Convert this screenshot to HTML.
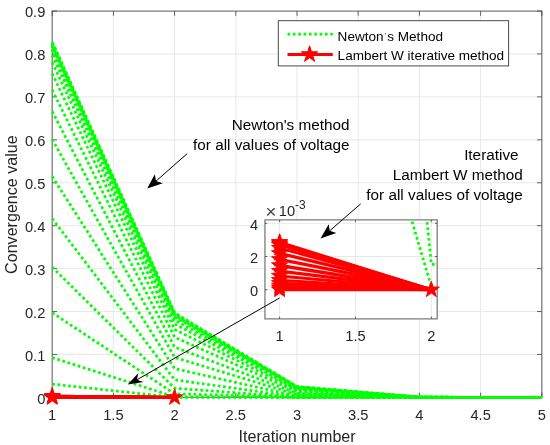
<!DOCTYPE html>
<html><head><meta charset="utf-8"><title>Convergence plot</title>
<style>html,body{margin:0;padding:0;background:#fff}svg{display:block}</style></head>
<body>
<svg width="550" height="445" viewBox="0 0 550 445" font-family="'Liberation Sans', Arial, Helvetica, sans-serif">
<rect width="550" height="445" fill="#fff"/>
<path d="M113.40 11.03V397.40M174.60 11.03V397.40M235.80 11.03V397.40M297.00 11.03V397.40M358.20 11.03V397.40M419.40 11.03V397.40M480.60 11.03V397.40M52.20 354.47H541.80M52.20 311.54H541.80M52.20 268.61H541.80M52.20 225.68H541.80M52.20 182.75H541.80M52.20 139.82H541.80M52.20 96.89H541.80M52.20 53.96H541.80" stroke="#e2e2e2" stroke-width="0.8" fill="none"/>
<path d="M52.20 11.03H541.80V397.40H52.20Z" stroke="#7c7c7c" stroke-width="1.3" fill="none"/>
<path d="M52.20 397.40v-4.8M52.20 11.03v4.8M113.40 397.40v-4.8M113.40 11.03v4.8M174.60 397.40v-4.8M174.60 11.03v4.8M235.80 397.40v-4.8M235.80 11.03v4.8M297.00 397.40v-4.8M297.00 11.03v4.8M358.20 397.40v-4.8M358.20 11.03v4.8M419.40 397.40v-4.8M419.40 11.03v4.8M480.60 397.40v-4.8M480.60 11.03v4.8M541.80 397.40v-4.8M541.80 11.03v4.8M52.20 397.40h4.8M541.80 397.40h-4.8M52.20 354.47h4.8M541.80 354.47h-4.8M52.20 311.54h4.8M541.80 311.54h-4.8M52.20 268.61h4.8M541.80 268.61h-4.8M52.20 225.68h4.8M541.80 225.68h-4.8M52.20 182.75h4.8M541.80 182.75h-4.8M52.20 139.82h4.8M541.80 139.82h-4.8M52.20 96.89h4.8M541.80 96.89h-4.8M52.20 53.96h4.8M541.80 53.96h-4.8M52.20 11.03h4.8M541.80 11.03h-4.8" stroke="#404040" stroke-width="0.8" fill="none"/>
<g font-size="14.67" fill="#262626">
<text x="52.20" y="420" text-anchor="middle">1</text>
<text x="113.40" y="420" text-anchor="middle">1.5</text>
<text x="174.60" y="420" text-anchor="middle">2</text>
<text x="235.80" y="420" text-anchor="middle">2.5</text>
<text x="297.00" y="420" text-anchor="middle">3</text>
<text x="358.20" y="420" text-anchor="middle">3.5</text>
<text x="419.40" y="420" text-anchor="middle">4</text>
<text x="480.60" y="420" text-anchor="middle">4.5</text>
<text x="541.80" y="420" text-anchor="middle">5</text>
<text x="45.3" y="403.60" text-anchor="end">0</text>
<text x="45.3" y="360.67" text-anchor="end">0.1</text>
<text x="45.3" y="317.74" text-anchor="end">0.2</text>
<text x="45.3" y="274.81" text-anchor="end">0.3</text>
<text x="45.3" y="231.88" text-anchor="end">0.4</text>
<text x="45.3" y="188.95" text-anchor="end">0.5</text>
<text x="45.3" y="146.02" text-anchor="end">0.6</text>
<text x="45.3" y="103.09" text-anchor="end">0.7</text>
<text x="45.3" y="60.16" text-anchor="end">0.8</text>
<text x="45.3" y="17.23" text-anchor="end">0.9</text>
</g>
<text x="297.1" y="441.5" font-size="16.1" fill="#262626" text-anchor="middle">Iteration number</text>
<text transform="translate(17.0,204.6) rotate(-90)" font-size="16.1" fill="#262626" text-anchor="middle">Convergence value</text>
<g fill="none" stroke="#00ff00" stroke-width="2.75" stroke-dasharray="2.7 2.65">
<polyline points="52.20,384.10 174.60,397.31 297.00,397.40 419.40,397.40 541.80,397.40"/>
<polyline points="52.20,357.65 174.60,396.73 297.00,397.40 419.40,397.40 541.80,397.40"/>
<polyline points="52.20,312.72 174.60,393.82 297.00,397.39 419.40,397.40 541.80,397.40"/>
<polyline points="52.20,267.14 174.60,388.19 297.00,397.29 419.40,397.40 541.80,397.40"/>
<polyline points="52.20,218.55 174.60,379.80 297.00,396.97 419.40,397.39 541.80,397.40"/>
<polyline points="52.20,176.41 174.60,368.62 297.00,396.22 419.40,397.38 541.80,397.40"/>
<polyline points="52.20,139.43 174.60,357.44 297.00,394.70 419.40,397.35 541.80,397.40"/>
<polyline points="52.20,111.48 174.60,347.12 297.00,393.35 419.40,397.33 541.80,397.40"/>
<polyline points="52.20,89.98 174.60,337.23 297.00,391.76 419.40,397.30 541.80,397.40"/>
<polyline points="52.20,73.64 174.60,329.49 297.00,390.31 419.40,397.27 541.80,397.40"/>
<polyline points="52.20,62.46 174.60,323.90 297.00,389.16 419.40,397.24 541.80,397.40"/>
<polyline points="52.20,55.15 174.60,320.03 297.00,388.30 419.40,397.23 541.80,397.40"/>
<polyline points="52.20,49.56 174.60,317.02 297.00,387.61 419.40,397.21 541.80,397.40"/>
<polyline points="52.20,46.12 174.60,315.51 297.00,387.25 419.40,397.21 541.80,397.40"/>
<polyline points="52.20,44.62 174.60,314.44 297.00,387.00 419.40,397.20 541.80,397.40"/>
<polyline points="52.20,43.54 174.60,313.79 297.00,386.84 419.40,397.20 541.80,397.40"/>
<polyline points="52.20,42.68 174.60,313.36 297.00,386.73 419.40,397.19 541.80,397.40"/>
<polyline points="52.20,42.03 174.60,312.93 297.00,386.63 419.40,397.19 541.80,397.40"/>
</g>
<g stroke="#ff0000" stroke-width="2.8" fill="none">
<line x1="52.20" y1="396.17" x2="174.60" y2="397.40"/>
<line x1="52.20" y1="396.21" x2="174.60" y2="397.40"/>
<line x1="52.20" y1="396.24" x2="174.60" y2="397.40"/>
<line x1="52.20" y1="396.32" x2="174.60" y2="397.40"/>
<line x1="52.20" y1="396.46" x2="174.60" y2="397.40"/>
<line x1="52.20" y1="396.61" x2="174.60" y2="397.40"/>
<line x1="52.20" y1="396.77" x2="174.60" y2="397.40"/>
<line x1="52.20" y1="396.92" x2="174.60" y2="397.40"/>
<line x1="52.20" y1="397.04" x2="174.60" y2="397.40"/>
<line x1="52.20" y1="397.16" x2="174.60" y2="397.40"/>
<line x1="52.20" y1="397.23" x2="174.60" y2="397.40"/>
<line x1="52.20" y1="397.30" x2="174.60" y2="397.40"/>
<line x1="52.20" y1="397.36" x2="174.60" y2="397.40"/>
<line x1="52.20" y1="397.40" x2="174.60" y2="397.40"/>
</g>
<polygon points="52.20,387.67 54.11,393.55 60.28,393.55 55.29,397.18 57.20,403.05 52.20,399.42 47.20,403.05 49.11,397.18 44.12,393.55 50.29,393.55" fill="#ff0000" stroke="#ff0000" stroke-width="1" stroke-linejoin="miter"/>
<polygon points="52.20,388.42 54.11,394.29 60.28,394.29 55.29,397.92 57.20,403.80 52.20,400.17 47.20,403.80 49.11,397.92 44.12,394.29 50.29,394.29" fill="#ff0000" stroke="#ff0000" stroke-width="1" stroke-linejoin="miter"/>
<polygon points="52.20,388.90 54.11,394.77 60.28,394.77 55.29,398.40 57.20,404.28 52.20,400.65 47.20,404.28 49.11,398.40 44.12,394.77 50.29,394.77" fill="#ff0000" stroke="#ff0000" stroke-width="1" stroke-linejoin="miter"/>
<polygon points="174.60,388.90 176.51,394.77 182.68,394.77 177.69,398.40 179.60,404.28 174.60,400.65 169.60,404.28 171.51,398.40 166.52,394.77 172.69,394.77" fill="#ff0000" stroke="#ff0000" stroke-width="1" stroke-linejoin="miter"/>
<rect x="278.3" y="20.7" width="230.3" height="45.2" fill="#fff" stroke="#4a4a4a" stroke-width="1"/>
<line x1="287.5" y1="34.2" x2="332.8" y2="34.2" stroke="#00ff00" stroke-width="2.75" stroke-dasharray="2.7 2.65"/>
<line x1="287.5" y1="54.5" x2="332.8" y2="54.5" stroke="#ff0000" stroke-width="2.8"/>
<polygon points="309.60,45.80 311.53,51.74 317.78,51.74 312.72,55.42 314.65,61.36 309.60,57.68 304.55,61.36 306.48,55.42 301.42,51.74 307.67,51.74" fill="#ff0000" stroke="#ff0000" stroke-width="1" stroke-linejoin="miter"/>
<text x="337.6" y="40.7" font-size="13.55" fill="#000">Newton<tspan font-size="8" dy="-2.5" dx="1">'</tspan><tspan dy="2.5" dx="1.2">s Method</tspan></text>
<text x="337.6" y="60.2" font-size="13.55" fill="#000">Lambert W iterative method</text>
<g font-size="15.3" fill="#000" text-anchor="end">
<text x="349.5" y="130">Newton's method</text>
<text x="349.5" y="150">for all values of voltage</text>
<text x="522.8" y="159.8" xml:space="preserve">Iterative </text>
<text x="522.8" y="179.6">Lambert W method</text>
<text x="522.8" y="199.6">for all values of voltage</text>
</g>
<rect x="264.96" y="219.9" width="172.24" height="98.90" fill="#fff"/>
<path d="M279.60 219.9V318.8M355.45 219.9V318.8M431.30 219.9V318.8M264.96 289.70H437.2M264.96 256.50H437.2M264.96 223.30H437.2" stroke="#e2e2e2" stroke-width="0.8" fill="none"/>
<path d="M264.96 219.9H437.2V318.8H264.96Z" stroke="#7c7c7c" stroke-width="1.3" fill="none"/>
<path d="M279.60 318.8v-2.3M279.60 219.9v2.3M355.45 318.8v-2.3M355.45 219.9v2.3M431.30 318.8v-2.3M431.30 219.9v2.3M264.96 289.70h2.3M437.2 289.70h-2.3M264.96 256.50h2.3M437.2 256.50h-2.3M264.96 223.30h2.3M437.2 223.30h-2.3" stroke="#404040" stroke-width="0.8" fill="none"/>
<g font-size="14.67" fill="#262626">
<text x="279.60" y="341.2" text-anchor="middle">1</text>
<text x="355.45" y="341.2" text-anchor="middle">1.5</text>
<text x="431.30" y="341.2" text-anchor="middle">2</text>
<text x="258.1" y="296.30" text-anchor="end">0</text>
<text x="258.1" y="263.10" text-anchor="end">2</text>
<text x="258.1" y="229.90" text-anchor="end">4</text>
<text x="265.6" y="215.7"><tspan font-size="18.5" dy="1.8" fill="#444">×</tspan><tspan x="278.8" dy="-1.8">10</tspan><tspan font-size="12" dy="-6.5">-3</tspan></text>
</g>
<clipPath id="ic"><rect x="264.96" y="219.9" width="172.24" height="98.90"/></clipPath>
<g clip-path="url(#ic)" fill="none" stroke="#00ff00" stroke-width="2.75" stroke-dasharray="2.7 2.65">
<polyline points="279.60,-224.58 431.30,286.38"/>
<polyline points="279.60,-1247.14 431.30,263.97 583.00,289.67"/>
<polyline points="279.60,-2984.67 431.30,151.19 583.00,289.13"/>
</g>
<g stroke="#ff0000" fill="none">
<line x1="279.60" y1="242.22" x2="431.30" y2="289.70" stroke-width="3"/>
<line x1="279.60" y1="243.55" x2="431.30" y2="289.70" stroke-width="3"/>
<line x1="279.60" y1="244.88" x2="431.30" y2="289.70" stroke-width="3"/>
<line x1="279.60" y1="248.03" x2="431.30" y2="289.70" stroke-width="3.1"/>
<line x1="279.60" y1="253.35" x2="431.30" y2="289.70" stroke-width="3.4"/>
<line x1="279.60" y1="259.32" x2="431.30" y2="289.70" stroke-width="3.4"/>
<line x1="279.60" y1="265.46" x2="431.30" y2="289.70" stroke-width="3.4"/>
<line x1="279.60" y1="271.11" x2="431.30" y2="289.70" stroke-width="3.3"/>
<line x1="279.60" y1="275.92" x2="431.30" y2="289.70" stroke-width="3.1"/>
<line x1="279.60" y1="280.24" x2="431.30" y2="289.70" stroke-width="3"/>
<line x1="279.60" y1="283.23" x2="431.30" y2="289.70" stroke-width="3"/>
<line x1="279.60" y1="285.88" x2="431.30" y2="289.70" stroke-width="3"/>
<line x1="279.60" y1="288.04" x2="431.30" y2="289.70" stroke-width="3"/>
<line x1="279.60" y1="289.70" x2="431.30" y2="289.70" stroke-width="3"/>
</g>
<polygon points="279.60,233.72 281.51,239.60 287.68,239.60 282.69,243.23 284.60,249.10 279.60,245.47 274.60,249.10 276.51,243.23 271.52,239.60 277.69,239.60" fill="#ff0000" stroke="#ff0000" stroke-width="1" stroke-linejoin="miter"/>
<polygon points="279.60,235.05 281.51,240.93 287.68,240.93 282.69,244.56 284.60,250.43 279.60,246.80 274.60,250.43 276.51,244.56 271.52,240.93 277.69,240.93" fill="#ff0000" stroke="#ff0000" stroke-width="1" stroke-linejoin="miter"/>
<polygon points="279.60,236.38 281.51,242.25 287.68,242.25 282.69,245.88 284.60,251.76 279.60,248.13 274.60,251.76 276.51,245.88 271.52,242.25 277.69,242.25" fill="#ff0000" stroke="#ff0000" stroke-width="1" stroke-linejoin="miter"/>
<polygon points="279.60,239.53 281.51,245.41 287.68,245.41 282.69,249.04 284.60,254.91 279.60,251.28 274.60,254.91 276.51,249.04 271.52,245.41 277.69,245.41" fill="#ff0000" stroke="#ff0000" stroke-width="1" stroke-linejoin="miter"/>
<polygon points="279.60,244.85 281.51,250.72 287.68,250.72 282.69,254.35 284.60,260.22 279.60,256.59 274.60,260.22 276.51,254.35 271.52,250.72 277.69,250.72" fill="#ff0000" stroke="#ff0000" stroke-width="1" stroke-linejoin="miter"/>
<polygon points="279.60,250.82 281.51,256.70 287.68,256.70 282.69,260.33 284.60,266.20 279.60,262.57 274.60,266.20 276.51,260.33 271.52,256.70 277.69,256.70" fill="#ff0000" stroke="#ff0000" stroke-width="1" stroke-linejoin="miter"/>
<polygon points="279.60,256.96 281.51,262.84 287.68,262.84 282.69,266.47 284.60,272.34 279.60,268.71 274.60,272.34 276.51,266.47 271.52,262.84 277.69,262.84" fill="#ff0000" stroke="#ff0000" stroke-width="1" stroke-linejoin="miter"/>
<polygon points="279.60,262.61 281.51,268.48 287.68,268.48 282.69,272.11 284.60,277.98 279.60,274.35 274.60,277.98 276.51,272.11 271.52,268.48 277.69,268.48" fill="#ff0000" stroke="#ff0000" stroke-width="1" stroke-linejoin="miter"/>
<polygon points="279.60,267.42 281.51,273.30 287.68,273.30 282.69,276.93 284.60,282.80 279.60,279.17 274.60,282.80 276.51,276.93 271.52,273.30 277.69,273.30" fill="#ff0000" stroke="#ff0000" stroke-width="1" stroke-linejoin="miter"/>
<polygon points="279.60,271.74 281.51,277.61 287.68,277.61 282.69,281.24 284.60,287.11 279.60,283.48 274.60,287.11 276.51,281.24 271.52,277.61 277.69,277.61" fill="#ff0000" stroke="#ff0000" stroke-width="1" stroke-linejoin="miter"/>
<polygon points="279.60,274.73 281.51,280.60 287.68,280.60 282.69,284.23 284.60,290.10 279.60,286.47 274.60,290.10 276.51,284.23 271.52,280.60 277.69,280.60" fill="#ff0000" stroke="#ff0000" stroke-width="1" stroke-linejoin="miter"/>
<polygon points="279.60,277.38 281.51,283.26 287.68,283.26 282.69,286.89 284.60,292.76 279.60,289.13 274.60,292.76 276.51,286.89 271.52,283.26 277.69,283.26" fill="#ff0000" stroke="#ff0000" stroke-width="1" stroke-linejoin="miter"/>
<polygon points="279.60,279.54 281.51,285.41 287.68,285.41 282.69,289.04 284.60,294.92 279.60,291.29 274.60,294.92 276.51,289.04 271.52,285.41 277.69,285.41" fill="#ff0000" stroke="#ff0000" stroke-width="1" stroke-linejoin="miter"/>
<polygon points="279.60,281.20 281.51,287.07 287.68,287.07 282.69,290.70 284.60,296.58 279.60,292.95 274.60,296.58 276.51,290.70 271.52,287.07 277.69,287.07" fill="#ff0000" stroke="#ff0000" stroke-width="1" stroke-linejoin="miter"/>
<polygon points="431.30,281.20 433.21,287.07 439.38,287.07 434.39,290.70 436.30,296.58 431.30,292.95 426.30,296.58 428.21,290.70 423.22,287.07 429.39,287.07" fill="#ff0000" stroke="#ff0000" stroke-width="1" stroke-linejoin="miter"/>
<line x1="187.2" y1="153.6" x2="156.0" y2="181.1" stroke="#000" stroke-width="1"/><polygon points="147.2,188.4 154.8,174.2 156.0,181.1 162.8,183.3" fill="#000"/>
<line x1="360.7" y1="203.8" x2="329.7" y2="230.8" stroke="#000" stroke-width="1"/><polygon points="320.5,238.4 328.7,224.2 329.7,230.8 336.3,233.0" fill="#000"/>
<line x1="279.5" y1="298.0" x2="136.9" y2="379.8" stroke="#000" stroke-width="1"/><polygon points="127.7,384.6 138.4,373.0 136.9,379.8 143.7,382.0" fill="#000"/>
</svg>
</body></html>
